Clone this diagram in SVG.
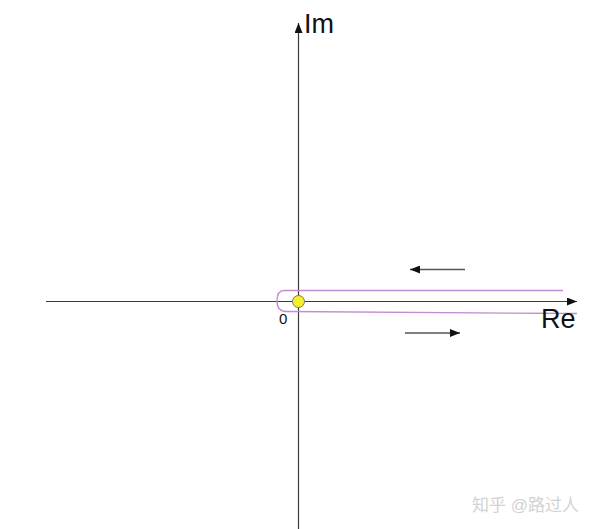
<svg xmlns="http://www.w3.org/2000/svg" width="600" height="529" viewBox="0 0 600 529">
<style>
.axis{stroke:#3a3a3a;stroke-width:1.2;fill:none}
.dir{stroke:#555;stroke-width:1.5;fill:none}
.contour{stroke:#c38ccf;stroke-width:1.3;fill:none}
.lbl{font-family:"Liberation Sans",Arial,sans-serif;fill:#111}
.wm{font-family:"Liberation Sans","Noto Sans CJK SC",sans-serif;fill:#d2d2d2;font-size:17px}
</style>
<defs>
<marker id="ah" viewBox="0 0 10 8" refX="10" refY="4" markerWidth="10" markerHeight="8" markerUnits="userSpaceOnUse" orient="auto">
<path d="M0,0 L10,4 L0,8 Z" fill="#111"/>
</marker>
</defs>
<rect width="600" height="529" fill="#fff"/>
<g id="connectors">
<line id="re-axis" class="axis" x1="46" y1="301.5" x2="577" y2="301.5" marker-end="url(#ah)"/>
<line id="im-axis" class="axis" x1="298.5" y1="529" x2="298.5" y2="23" marker-end="url(#ah)"/>
<path id="contour" class="contour" d="M563,290.5 L284,290.5 Q277,290.5 277,301 Q277,311.5 286,311.5 L577,313.5"/>
<line id="arrow-top" class="dir" x1="465" y1="269.5" x2="410" y2="269.5" marker-end="url(#ah)"/>
<line id="arrow-bottom" class="dir" x1="405" y1="333" x2="460" y2="333" marker-end="url(#ah)"/>
</g>
<g id="origin">
<circle cx="298.5" cy="301.5" r="6" fill="#f5ee2a" stroke="#777" stroke-width="1"/>
<text class="lbl" x="279" y="323.5" font-size="15">0</text>
</g>
<g id="label-im"><text class="lbl" x="304" y="33" font-size="27">Im</text></g>
<g id="label-re"><text class="lbl" x="541" y="328" font-size="27">Re</text></g>
<g id="watermark"><text class="wm" x="472" y="511">知乎 @路过人</text></g>
</svg>
